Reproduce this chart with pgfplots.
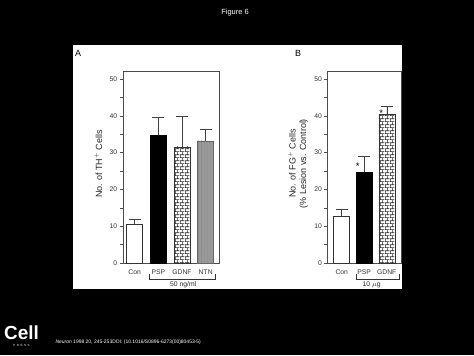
\documentclass[border=0pt]{standalone}
\usepackage{pgfplots}
\pgfplotsset{compat=1.18}
\usepackage{fontspec}
\setmainfont{Liberation Sans}
\usetikzlibrary{patterns}
\pgfdeclarepatternformonly{mybricks}{\pgfpointorigin}{\pgfpoint{5bp}{6.4bp}}{\pgfpoint{5bp}{6.4bp}}{
 \pgfsetlinewidth{0.65pt}
 \pgfpathmoveto{\pgfpoint{0bp}{0.3bp}}\pgfpathlineto{\pgfpoint{5bp}{0.3bp}}
 \pgfpathmoveto{\pgfpoint{0bp}{3.5bp}}\pgfpathlineto{\pgfpoint{5bp}{3.5bp}}
 \pgfpathmoveto{\pgfpoint{0.3bp}{0.3bp}}\pgfpathlineto{\pgfpoint{0.3bp}{3.5bp}}
 \pgfpathmoveto{\pgfpoint{2.8bp}{3.5bp}}\pgfpathlineto{\pgfpoint{2.8bp}{6.4bp}}
 \pgfusepath{stroke}}
\pgfplotsset{
 panel/.style={
  scale only axis, height=191.3bp, ymin=0, ymax=52,
  axis line style={black!70, line width=0.4pt},
  ytick={0,10,20,30,40,50}, minor y tick num=1,
  ytick pos=left, tick align=outside,
  major tick length=3bp, minor tick length=3bp,
  y tick style={black!70, line width=0.4pt},
  x tick style={draw=none},
  /pgf/number format/assume math mode=true,
  ticklabel style={font=\fontsize{6.8}{7}\selectfont, text=black!80},
  yticklabel style={xshift=1bp},
  ybar, bar shift=0pt, bar width=16bp,
  clip=false,
  error bars/y dir=plus, error bars/y explicit,
  error bars/error bar style={black!75, line width=0.5pt},
  error bars/error mark options={black!75, line width=0.5pt, rotate=90, mark size=6bp},
 }
}
\begin{document}
\begin{tikzpicture}[x=1bp,y=1bp]
\fill[black] (0,0) rectangle (474,355);
\useasboundingbox (0,0) rectangle (474,355);
\fill[white] (72.7,65.7) rectangle (402,310);
\node[font=\fontsize{9}{10}\selectfont, anchor=center] at (78,302) {A};
\node[font=\fontsize{9}{10}\selectfont, anchor=center] at (298,302) {B};
\node[text=white, font=\fontsize{7.5}{8}\selectfont] at (235,342.5) {Figure 6};
\node[text=white, font=\bfseries\fontsize{19}{19}\selectfont, anchor=center] at (21.5,22) {Cell};
\node[text=white, font=\fontsize{3}{3}\selectfont, anchor=center] at (21.5,9.5) {P\,\,\,R\,\,\,E\,\,\,S\,\,\,S};
\node[text=white, font=\fontsize{5}{6}\selectfont, anchor=west] at (52,12.3) {\textit{Neuron} 1998 20, 245-253DOI: (10.1016/S0896-6273(00)80453-5)};

\begin{axis}[panel, at={(122.7bp,92bp)}, anchor=south west,
  width=96.6bp, xmin=-0.507, xmax=3.575,
  xtick={0,1,2,3}, xticklabels={Con,PSP,GDNF,NTN},
  ylabel={No. of TH$^{+}$ Cells},
  ylabel style={at={(axis description cs:-0.253,0.517)}, anchor=center, font=\fontsize{9}{10}\selectfont, text=black!85},
 ]
\addplot[fill=white, draw=black!80, line width=0.5pt] coordinates {(0,10.6) +- (0,1.2)};
\addplot[fill=black, draw=black, line width=0.5pt] coordinates {(1,34.8) +- (0,4.7)};
\addplot[pattern=mybricks, pattern color=black!85, draw=black!80, line width=0.5pt] coordinates {(2,31.6) +- (0,8.4)};
\addplot[fill=black!40, draw=black!60, line width=0.5pt, postaction={pattern=vertical lines, pattern color=black!55}] coordinates {(3,33.2) +- (0,3.1)};
\draw[black!80, line width=0.5pt] (axis cs:0.62,-3.0) -- (axis cs:0.62,-4.5) -- (axis cs:3.39,-4.5) -- (axis cs:3.39,-3.0);
\node[font=\fontsize{6.8}{7}\selectfont, text=black!85] at (axis cs:2.05,-5.9) {50 ng/ml};
\end{axis}

\begin{axis}[panel, at={(327.3bp,92bp)}, anchor=south west,
  width=73.4bp, xmin=-0.64, xmax=2.62,
  xtick={0,1,2}, xticklabels={Con,PSP,GDNF},
  ylabel={No. of FG$^{+}$ Cells\\(\% Lesion vs. Control)},
  ylabel style={at={(axis description cs:-0.40,0.52)}, anchor=center, align=center, font=\fontsize{9}{10.5}\selectfont, text=black!85},
 ]
\addplot[fill=white, draw=black!80, line width=0.5pt] coordinates {(0,12.8) +- (0,1.7)};
\addplot[fill=black, draw=black, line width=0.5pt] coordinates {(1,24.8) +- (0,4.3)};
\addplot[pattern=mybricks, pattern color=black!85, draw=black!80, line width=0.5pt] coordinates {(2,40.5) +- (0,2.1)};
\node[font=\fontsize{9.5}{9}\selectfont] at (axis cs:0.71,26.4) {*};
\node[font=\fontsize{9.5}{9}\selectfont] at (axis cs:1.75,40.7) {*};
\draw[black!80, line width=0.5pt] (axis cs:0.64,-3.0) -- (axis cs:0.64,-4.5) -- (axis cs:2.56,-4.5) -- (axis cs:2.56,-3.0);
\node[font=\fontsize{6.8}{7}\selectfont, text=black!85] at (axis cs:1.33,-5.9) {10 $\mu$g};
\end{axis}
\end{tikzpicture}
\end{document}
